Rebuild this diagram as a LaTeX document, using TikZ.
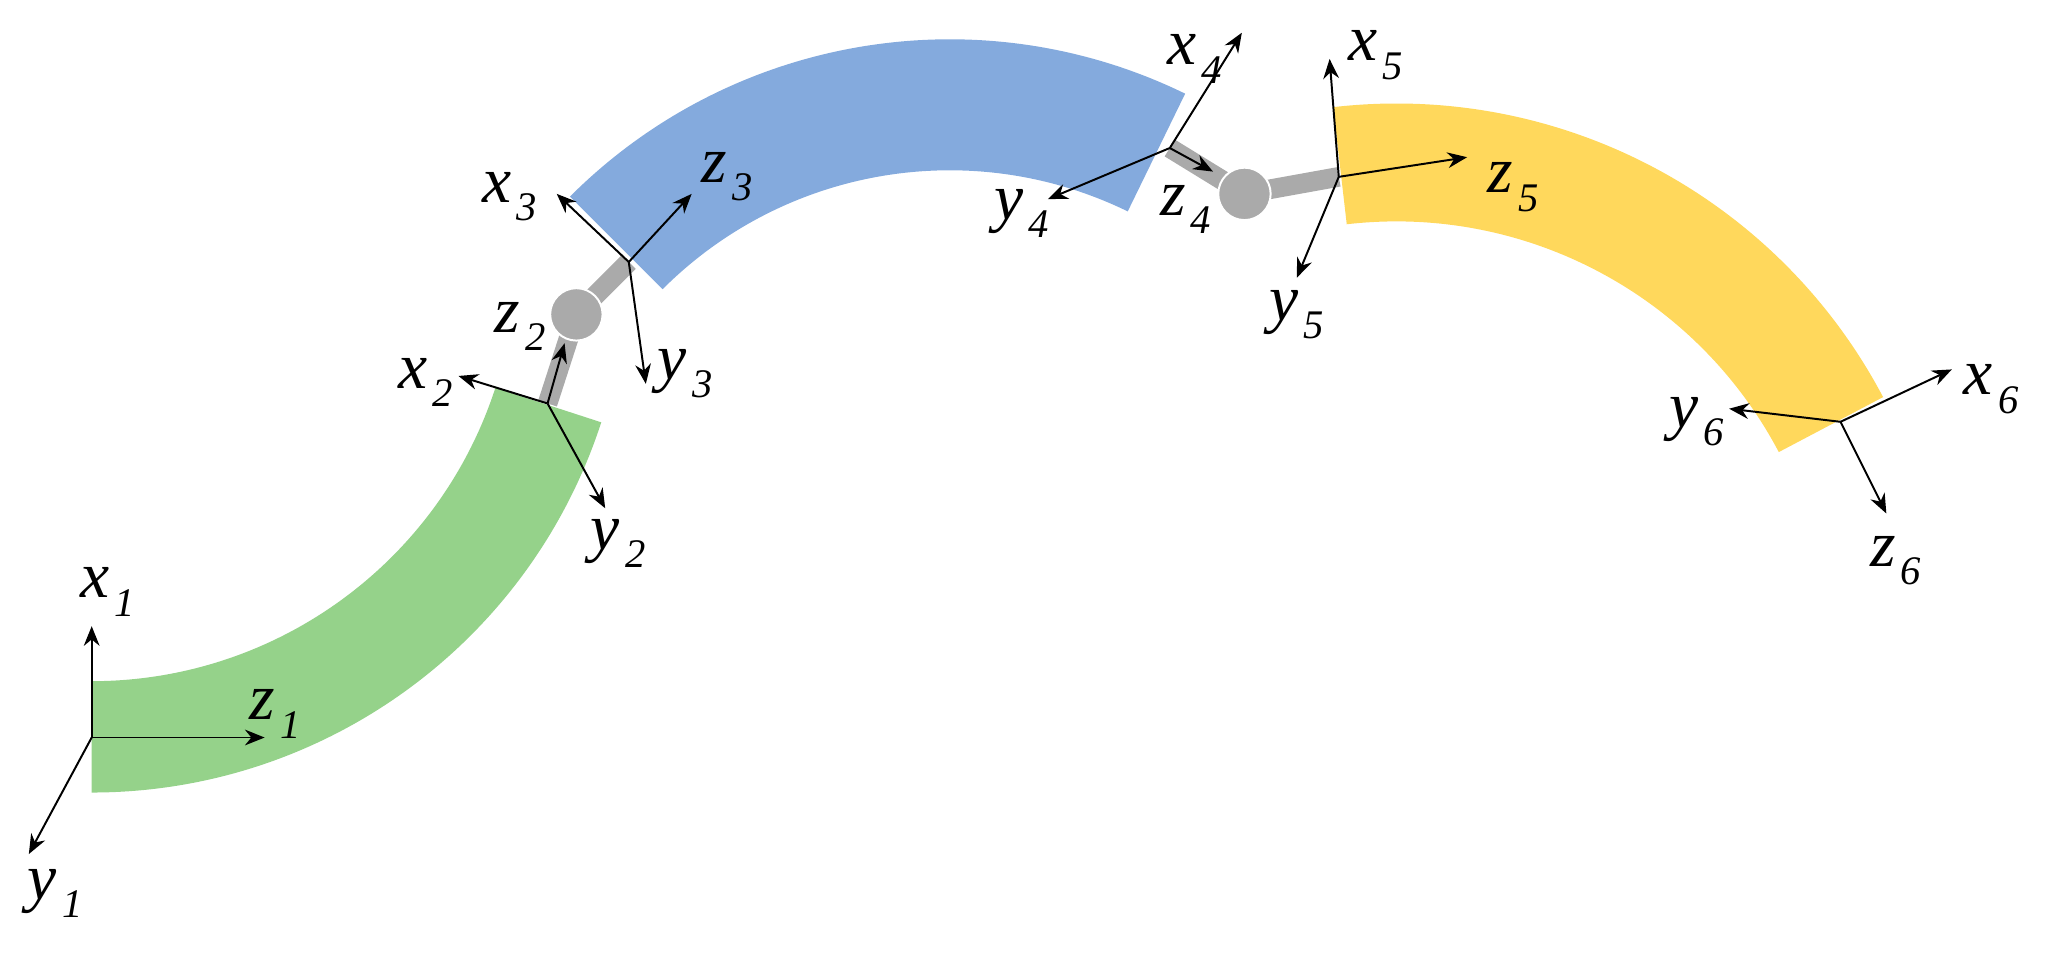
\documentclass[tikz,border=0pt]{standalone}
\usepackage{fontspec}
\setmainfont{Liberation Serif}
\newfontfamily\tnr{Liberation Serif}
\usetikzlibrary{calc,arrows.meta}
\definecolor{cgreen}{RGB}{149,210,138}
\definecolor{cblue}{RGB}{132,170,221}
\definecolor{cyellow}{RGB}{255,216,92}
\definecolor{cgray}{RGB}{170,170,170}
\newcommand{\lab}[2]{#1\hspace{0.08em}\raisebox{-0.28em}{\fontsize{31}{31}\selectfont\tnr\itshape #2}}
\tikzset{ax/.style={-{Stealth[length=15pt,width=12pt]},line width=1.5pt},
 lbl/.style={font=\tnr\fontsize{50}{50}\selectfont\itshape,inner sep=0pt},
 link/.style={cgray,line width=15pt},
 joint/.style={circle,fill=cgray,draw=white,line width=1.5pt,minimum size=40pt,inner sep=0pt}}
\begin{document}
\begin{tikzpicture}[x=1pt,y=-1pt]
\useasboundingbox (0,0) rectangle (1568,731);
% bands
\coordinate (cg) at (70,196);
\fill[cgreen] ($(cg)+(90:324)$) arc[start angle=90,end angle=18,radius=324] -- ($(cg)+(18:409)$) arc[start angle=18,end angle=90,radius=409] -- cycle;
\coordinate (cb) at (725,440);
\fill[cblue] ($(cb)+(-135:310)$) arc[start angle=-135,end angle=-64,radius=310] -- ($(cb)+(-64:410)$) arc[start angle=-64,end angle=-135,radius=410] -- cycle;
\coordinate (cy) at (1066,499);
\fill[cyellow] ($(cy)+(-96.6:330)$) arc[start angle=-96.6,end angle=-27.8,radius=330] -- ($(cy)+(-27.8:420)$) arc[start angle=-27.8,end angle=-96.6,radius=420] -- cycle;
% origins
\coordinate (o1) at (70,563);
\coordinate (o2) at (418,308);
\coordinate (o3) at (480,200);
\coordinate (o4) at (893,113);
\coordinate (o5) at (1022,135);
\coordinate (o6) at (1405,322);
% links
\coordinate (j1) at (440,240);
\coordinate (j2) at (950,148);
\draw[link] (o2) -- (j1) -- (o3);
\draw[link] (o4) -- (j2) -- (o5);
\node[joint] (jn1) at (j1) {};
\node[joint] (jn2) at (j2) {};
% frame 1
\coordinate (x1e) at (70,478); \coordinate (z1e) at (202,563); \coordinate (y1e) at (22,652);
\draw[ax] (o1)--(x1e); \draw[ax] (o1)--(z1e); \draw[ax] (o1)--(y1e);
\node[lbl] (x1) at (82,452) {\lab{x}{1}};
\node[lbl] (z1) at (210,545) {\lab{z}{1}};
\node[lbl] (y1) at (42,682) {\lab{y}{1}};
% frame 2
\coordinate (x2e) at (350,287); \coordinate (y2e) at (462,388); \coordinate (z2e) at (431,262);
\draw[ax] (o2)--(x2e); \draw[ax] (o2)--(y2e); \draw[ax] (o2)--(z2e);
\node[lbl] (x2) at (325,292) {\lab{x}{2}};
\node[lbl] (y2) at (472,415) {\lab{y}{2}};
\node[lbl] (z2) at (397,249) {\lab{z}{2}};
% frame 3
\coordinate (x3e) at (425,148); \coordinate (z3e) at (528,148); \coordinate (y3e) at (493,293);
\draw[ax] (o3)--(x3e); \draw[ax] (o3)--(z3e); \draw[ax] (o3)--(y3e);
\node[lbl] (x3) at (389,150) {\lab{x}{3}};
\node[lbl] (z3) at (555,135) {\lab{z}{3}};
\node[lbl] (y3) at (523,285) {\lab{y}{3}};
% frame 4
\coordinate (x4e) at (948,25); \coordinate (y4e) at (800,152); \coordinate (z4e) at (926,131);
\draw[ax] (o4)--(x4e); \draw[ax] (o4)--(y4e); \draw[ax] (o4)--(z4e);
\node[lbl] (x4) at (912,45) {\lab{x}{4}};
\node[lbl] (y4) at (780,163) {\lab{y}{4}};
\node[lbl] (z4) at (905,160) {\lab{z}{4}};
% frame 5
\coordinate (x5e) at (1015,45); \coordinate (z5e) at (1120,120); \coordinate (y5e) at (990,212);
\draw[ax] (o5)--(x5e); \draw[ax] (o5)--(z5e); \draw[ax] (o5)--(y5e);
\node[lbl] (x5) at (1050,42) {\lab{x}{5}};
\node[lbl] (z5) at (1155,143) {\lab{z}{5}};
\node[lbl] (y5) at (990,240) {\lab{y}{5}};
% frame 6
\coordinate (x6e) at (1490,282); \coordinate (y6e) at (1320,312); \coordinate (z6e) at (1440,392);
\draw[ax] (o6)--(x6e); \draw[ax] (o6)--(y6e); \draw[ax] (o6)--(z6e);
\node[lbl] (x6) at (1520,297) {\lab{x}{6}};
\node[lbl] (y6) at (1295,322) {\lab{y}{6}};
\node[lbl] (z6) at (1447,428) {\lab{z}{6}};
\end{tikzpicture}
\end{document}
